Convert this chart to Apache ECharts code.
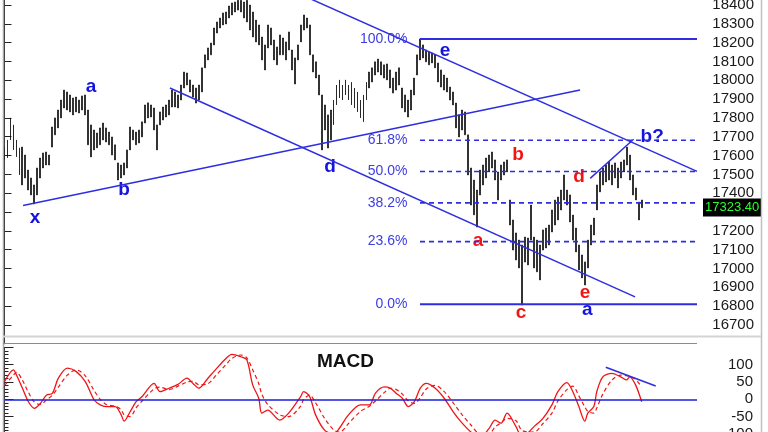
<!DOCTYPE html>
<html><head><meta charset="utf-8">
<script src="https://cdn.jsdelivr.net/npm/echarts@6/dist/echarts.min.js"></script>
<style>html,body{margin:0;padding:0;background:#fff}#c{width:768px;height:432px}</style>
</head><body><div id="c"></div>
<script>
// ---- price bars (daily high / low) ----
const highs = [17645,17683,17800,17763,17683,17641,17645,17603,17523,17481,17444,17534,17587,17614,17619,17603,17752,17800,17842,17895,
17948,17938,17922,17906,17911,17895,17917,17922,17842,17763,17736,17720,17747,17773,17747,17725,17699,17657,17561,17550,
17561,17630,17752,17736,17725,17736,17779,17869,17880,17869,17853,17763,17832,17858,17869,17895,17948,17938,17922,17975,
18044,18039,18002,17975,17959,17975,18066,18135,18172,18198,18278,18310,18331,18358,18363,18395,18411,18416,18425,18425,
18416,18425,18400,18363,18320,18294,18230,18188,18294,18278,18214,18177,18241,18225,18204,18257,18161,18119,18188,18294,
18347,18331,18294,18135,18098,18028,17922,17869,17816,17842,17895,17975,18002,17975,18002,17975,17990,17959,17938,17895,
17922,17990,18044,18066,18098,18113,18098,18082,18087,18055,18012,18044,18066,17959,17922,17895,17948,18012,18135,18220,
18188,18161,18150,18145,18135,18092,18055,18028,18012,17964,17938,17879,17816,17842,17832,17710,17534,17470,17417,17523,
17550,17587,17603,17619,17577,17513,17550,17566,17577,17364,17258,17189,17151,17125,17167,17162,17337,17167,17151,17125,
17205,17215,17231,17311,17364,17380,17417,17497,17417,17391,17284,17215,17125,17072,17035,17151,17231,17268,17444,17513,
17534,17550,17566,17550,17561,17534,17566,17577,17645,17603,17497,17428,17353,17364];
const lows = [17577,17588,17683,17630,17593,17497,17444,17481,17417,17391,17343,17391,17481,17534,17550,17550,17645,17710,17747,17800,
17853,17842,17832,17816,17832,17826,17842,17816,17657,17593,17630,17641,17657,17683,17672,17657,17603,17577,17470,17481,
17497,17534,17630,17683,17657,17667,17699,17773,17800,17805,17736,17630,17763,17789,17805,17816,17858,17858,17853,17895,
17959,17975,17938,17911,17879,17895,17938,18066,18108,18135,18188,18251,18278,18294,18299,18331,18347,18363,18373,18363,
18331,18310,18267,18230,18204,18188,18108,18055,18172,18188,18108,18082,18135,18135,18108,18161,18055,17980,18108,18204,
18267,18278,18135,18044,18012,17922,17630,17736,17640,17683,17763,17869,17906,17895,17922,17895,17869,17853,17832,17800,
17779,17895,17959,17991,18028,18044,18028,18012,18002,17959,17932,17948,17975,17853,17832,17805,17842,17922,18028,18108,
18119,18098,18082,18092,18066,17991,17964,17948,17938,17895,17869,17747,17699,17736,17710,17497,17337,17285,17220,17391,
17444,17481,17513,17534,17470,17364,17470,17497,17513,17231,17098,17045,17003,16806,17034,17019,17151,17003,16982,16939,
17098,17109,17125,17194,17231,17258,17311,17364,17337,17247,17151,17088,16992,16950,16912,17003,17125,17178,17311,17407,
17444,17460,17470,17444,17481,17428,17481,17513,17550,17470,17391,17364,17258,17323];
const lastClose = 17323.40;
const slotCount = 232;

// ---- Fibonacci retracement ----
const fibHigh = 18220;
const fibLow = 16810;
const fibPcts = [100, 61.8, 50, 38.2, 23.6, 0];
const fibNames = ['100.0%', '61.8%', '50.0%', '38.2%', '23.6%', '0.0%'];
const fibStartBar = 138.9;

// ---- wave annotations (bar index, price) ----
const waveText  = ['x', 'a', 'b', 'd', 'e', 'b?', 'a', 'a', 'b', 'c', 'd', 'e'];
const waveBar   = [10.2, 28.9, 40.0, 108.8, 147.3, 216.5, 194.8, 158.3, 171.7, 172.7, 192.1, 194.1];
const wavePrice = [17268, 17964, 17417, 17539, 18156, 17699, 16780, 17146, 17603, 16764, 17486, 16870];
const waveDegree = ['major','major','major','major','major','major','major','minor','minor','minor','minor','minor'];

// ---- trend lines (bar index, price) ----
const trendStart = [[6.2, 17335], [55.3, 17959], [100, 18449], [195.8, 17479]];
const trendEnd   = [[192.4, 17948], [210.8, 16849], [231.5, 17516], [210.3, 17687]];

// ---- MACD ----
const macdBar = [0,3,4,6,8,10,12,14,16,18,21,24,27,30,32,34,37,39,40,42,44,46,50,52,55,58,61,63,65,68,71,74,76,79,81,83,85,86,88,92,95,99,100,102,104,107,110,112,115,119,122,124,127,129,131,133,135,137,139,141,144,147,150,153,156,159,162,164,166,168,171,173,177,180,183,185,188,190,192,194,195,197,198,200,203,206,208,209,211,213];
const macdVal = [51,85,70,32,-7,-26,-12,12,17,61,90,80,51,-2,-16,-21,-21,-45,-63,-36,-7,8,46,22,32,43,61,46,32,61,90,118,130,123,114,41,3,-40,-31,-60,-40,8,22,8,-45,-89,-100,-83,-45,-16,-16,18,36,32,17,3,-21,-7,32,46,32,3,-36,-69,-95,-110,-84,-60,-69,-40,-79,-110,-79,-55,-16,22,48,22,-21,-63,-40,-21,22,65,75,65,56,65,41,-7];
const signalVal = [40,70,78,55,20,-8,-15,-2,12,35,70,85,68,25,0,-15,-20,-30,-45,-50,-25,-5,30,35,28,38,50,52,42,45,72,100,118,128,120,85,45,15,-15,-45,-50,-20,0,12,-10,-55,-88,-95,-70,-35,-20,-5,20,32,28,15,-5,-12,5,30,40,22,-10,-45,-75,-100,-100,-80,-68,-55,-62,-90,-95,-70,-40,-5,28,38,10,-22,-35,-40,-25,15,55,70,68,65,58,35];
const macdTrendStart = [201, 92.5];
const macdTrendEnd = [217.7, 38.4];

// ---- axis scales ----
const priceMin = 16600, priceMax = 18500, priceStep = 100;
const macdMin = -200, macdMax = 150, macdStep = 50;

const BLUE = '#2e2ee0', WAVEBLUE = '#1414e0', RED = '#f01414', FIBTXT = '#3c3ce4';
const FONT = '"Liberation Sans", Arial, sans-serif';

const chart = echarts.init(document.getElementById('c'));
const cats = Array.from({length: slotCount}, (_, i) => String(i));
const series = [];

series.push({
  type: 'candlestick', xAxisIndex: 0, yAxisIndex: 0, barWidth: 1.4,
  data: highs.map((h, i) => [lows[i], h, lows[i], h]),
  itemStyle: {color: '#000', color0: '#000', borderColor: '#000', borderColor0: '#000', borderWidth: 0.6},
  markLine: {
    silent: true, symbol: ['none', 'none'], animation: false,
    lineStyle: {color: 'transparent', width: 0},
    label: {position: 'end', distance: 6, formatter: lastClose.toFixed(2), color: '#2cff2c', backgroundColor: '#000',
      padding: [3, 2, 2, 2], fontSize: 13, fontFamily: '"Liberation Sans Narrow", ' + FONT},
    data: [{yAxis: lastClose}]
  }
});

trendStart.forEach((s, k) => {
  series.push({type: 'line', xAxisIndex: 1, yAxisIndex: 0, silent: true, showSymbol: false,
    data: [s, trendEnd[k]], lineStyle: {color: BLUE, width: 1.5}});
});

fibPcts.forEach((p, k) => {
  const lvl = fibLow + (fibHigh - fibLow) * p / 100;
  const solid = (p === 100 || p === 0);
  series.push({type: 'line', xAxisIndex: 1, yAxisIndex: 0, silent: true, showSymbol: false,
    data: [[fibStartBar, lvl], [slotCount - 0.5, lvl]],
    lineStyle: {color: BLUE, width: solid ? 2 : 1.6, type: solid ? 'solid' : [5, 4]}});
});

series.push({type: 'scatter', xAxisIndex: 1, yAxisIndex: 0, silent: true, symbolSize: 1,
  itemStyle: {color: 'transparent', opacity: 1},
  data: fibPcts.map((p, k) => ({value: [fibStartBar, fibLow + (fibHigh - fibLow) * p / 100], name: fibNames[k]})),
  label: {show: true, position: 'left', distance: 12, formatter: d => d.name, color: FIBTXT, fontSize: 14, fontFamily: FONT}
});

series.push({type: 'scatter', xAxisIndex: 1, yAxisIndex: 0, silent: true, symbolSize: 1,
  itemStyle: {color: 'transparent', opacity: 1},
  data: waveText.map((t, k) => ({value: [waveBar[k], wavePrice[k]], name: t,
    label: {color: waveDegree[k] === 'major' ? WAVEBLUE : RED}})),
  label: {show: true, position: 'inside', formatter: d => d.name, fontSize: 19, fontWeight: 'bold', fontFamily: FONT}
});

series.push({type: 'line', xAxisIndex: 2, yAxisIndex: 1, silent: true, showSymbol: false, smooth: 0.3,
  data: macdBar.map((b, k) => [b, macdVal[k]]), lineStyle: {color: RED, width: 1.3},
  markLine: {silent: true, symbol: ['none', 'none'], animation: false, label: {show: false},
    lineStyle: {color: '#1c1cdc', width: 1.5, type: 'solid'}, data: [{yAxis: 0}]}
});
series.push({type: 'line', xAxisIndex: 2, yAxisIndex: 1, silent: true, showSymbol: false, smooth: 0.3,
  data: macdBar.map((b, k) => [b, signalVal[k]]), lineStyle: {color: RED, width: 1.2, type: [4, 3]}});
series.push({type: 'line', xAxisIndex: 2, yAxisIndex: 1, silent: true, showSymbol: false,
  data: [macdTrendStart, macdTrendEnd], lineStyle: {color: BLUE, width: 1.6}});

const pxPer = 18.82 / priceStep;
const gridTop0 = 5 - (priceMax - 18400) * pxPer;
const gridH0 = (priceMax - priceMin) * pxPer;
const macdPx = 0.346;
const gridTop1 = 399.3 - macdMax * macdPx;
const gridH1 = (macdMax - macdMin) * macdPx;

chart.setOption({
  animation: false,
  backgroundColor: '#fff',
  title: {text: 'MACD', left: 312, top: 347, textStyle: {fontSize: 19, fontWeight: 'bold', color: '#111', fontFamily: FONT}},
  grid: [
    {left: 3, width: 694, top: gridTop0, height: gridH0, outerBoundsMode: 'none', containLabel: false},
    {left: 3, width: 694, top: gridTop1, height: gridH1, outerBoundsMode: 'none', containLabel: false}
  ],
  xAxis: [
    {type: 'category', gridIndex: 0, data: cats, boundaryGap: true, show: false},
    {type: 'value', gridIndex: 0, min: -0.5, max: slotCount - 0.5, show: false},
    {type: 'value', gridIndex: 1, min: -0.5, max: slotCount - 0.5, show: false}
  ],
  yAxis: [
    {type: 'value', gridIndex: 0, position: 'right', min: priceMin, max: priceMax, interval: priceStep,
      axisLine: {show: true, lineStyle: {color: '#222', width: 1}},
      axisTick: {show: true, length: 7, lineStyle: {color: '#222'}},
      splitLine: {show: false},
      axisLabel: {align: 'right', margin: 57, fontSize: 15, color: '#1a1a1a', fontFamily: FONT,
        formatter: v => String(v), showMinLabel: false, showMaxLabel: false}},
    {type: 'value', gridIndex: 1, position: 'right', min: macdMin, max: macdMax, interval: macdStep,
      axisLine: {show: true, lineStyle: {color: '#222', width: 1}},
      axisTick: {show: true, length: 9, lineStyle: {color: '#222'}},
      minorTick: {show: true, splitNumber: 5, length: 4, lineStyle: {color: '#222'}},
      splitLine: {show: false},
      axisLabel: {align: 'right', margin: 56, fontSize: 15, color: '#1a1a1a', fontFamily: FONT,
        formatter: v => String(v), showMaxLabel: false}}
  ],
  graphic: [
    {type: 'line', shape: {x1: 3.5, y1: 0, x2: 3.5, y2: 432}, style: {stroke: '#a8a8a8', lineWidth: 1.5}, z: 100},
    {type: 'line', shape: {x1: 761.5, y1: 0, x2: 761.5, y2: 432}, style: {stroke: '#c0c0c0', lineWidth: 1.5}, z: 100},
    {type: 'line', shape: {x1: 3, y1: 336.5, x2: 761, y2: 336.5}, style: {stroke: '#d4d4d4', lineWidth: 2}, z: 100},
    {type: 'line', shape: {x1: 3, y1: 343.5, x2: 697, y2: 343.5}, style: {stroke: '#8c8c8c', lineWidth: 1}, z: 100}
  ],
  series: series
});
</script></body></html>
